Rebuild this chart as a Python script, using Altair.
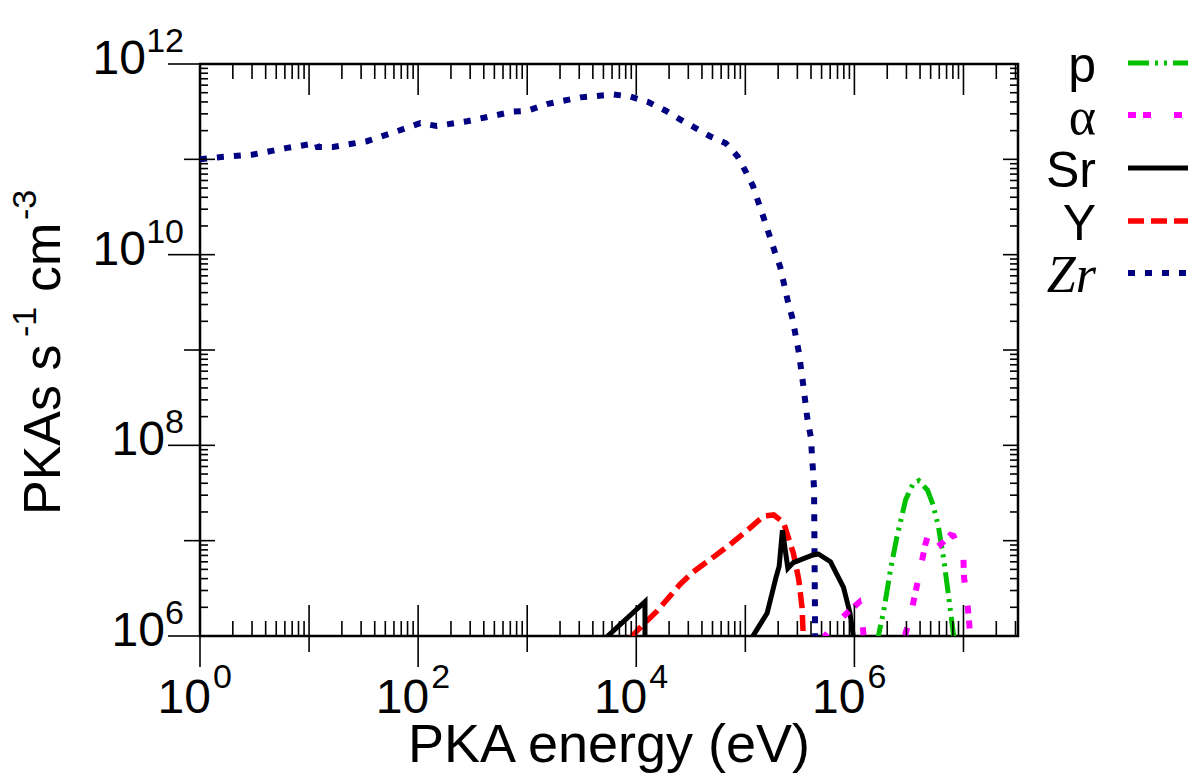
import altair as alt
import pandas as pd
import numpy as np

# ---------------- data (log10 values) ----------------
zr_log_e = [0.0, 0.153, 0.486, 0.80, 1.07, 1.08, 1.22, 1.53, 1.82, 2.02, 2.17, 2.45, 2.87,
            3.00, 3.18, 3.49, 3.79, 3.94, 4.11, 4.27, 4.40, 4.54, 4.68, 4.82, 4.93, 5.00,
            5.07, 5.17, 5.27, 5.32, 5.39, 5.43, 5.49, 5.53, 5.57, 5.60, 5.62, 5.63, 5.64, 5.645]
zr_log_v = [11.00, 11.02, 11.05, 11.12, 11.17, 11.13, 11.13, 11.19, 11.30, 11.38, 11.35, 11.40, 11.50,
            11.51, 11.58, 11.65, 11.68, 11.66, 11.60, 11.51, 11.42, 11.33, 11.24, 11.17, 11.03, 10.88,
            10.72, 10.38, 10.03, 9.87, 9.51, 9.34, 8.98, 8.64, 8.27, 8.09, 7.74, 7.55, 6.0, 5.5]

y_log_e = [3.95, 3.97, 4.08, 4.19, 4.31, 4.40, 4.52, 4.71, 4.86, 5.02, 5.17, 5.26, 5.35,
           5.44, 5.49, 5.52, 5.53, 5.535]
y_log_v = [5.97, 6.01, 6.14, 6.26, 6.42, 6.54, 6.67, 6.83, 6.96, 7.11, 7.26, 7.27, 7.19,
           6.87, 6.59, 6.30, 6.03, 5.9]

sr_log_e = [[3.72, 4.08, 4.08],
            [5.05, 5.07, 5.14, 5.20, 5.28, 5.31, 5.34, 5.39, 5.44, 5.62, 5.67, 5.78, 5.90, 5.96, 5.99, 6.00]]
sr_log_v = [[5.98, 6.36, 5.9],
            [5.95, 6.00, 6.13, 6.24, 6.61, 6.73, 7.11, 6.71, 6.77, 6.85, 6.86, 6.78, 6.51, 6.24, 6.00, 5.9]]

p_log_e = [6.21, 6.22, 6.27, 6.33, 6.39, 6.47, 6.54, 6.59, 6.67, 6.72, 6.77, 6.82, 6.86, 6.90, 6.91, 6.915]
p_log_v = [5.90, 6.00, 6.27, 6.69, 7.04, 7.43, 7.60, 7.63, 7.53, 7.38, 7.15, 6.80, 6.45, 6.09, 6.00, 5.9]

a_log_e = [[5.70, 5.73, 5.84, 5.94, 6.04, 6.07, 6.08, 6.09],
           [6.45, 6.47, 6.51, 6.59, 6.65, 6.69, 6.79, 6.88, 6.91, 7.00, 7.005, 7.04, 7.05, 7.06, 7.07]]
a_log_v = [[5.80, 6.00, 6.14, 6.25, 6.35, 6.20, 6.06, 5.9],
           [5.85, 6.03, 6.19, 6.62, 6.96, 7.11, 6.96, 7.06, 7.05, 6.80, 6.62, 6.30, 6.17, 6.03, 5.9]]

legend_names = ["p", "α", "Sr", "Y", "Zr"]
x_label_exp = [0, 2, 4, 6]
y_label_exp = [6, 8, 10, 12]

# ---------------- layout ----------------
W, H = 818, 572
SANS = "Liberation Sans"
SERIF = "Liberation Serif"
xs = alt.Scale(type="log", domain=[1, 10 ** 7.5], nice=False)
ys = alt.Scale(type="log", domain=[1e6, 1e12], nice=False)


def seg_df(loge_segs, logv_segs):
    rows = []
    for s, (le, lv) in enumerate(zip(loge_segs, logv_segs)):
        for i, (a, b) in enumerate(zip(le, lv)):
            rows.append({"E": 10 ** a, "v": 10 ** b, "seg": s, "i": i})
    return pd.DataFrame(rows)


def line(df, color, width, dash=None):
    kw = dict(clip=True, color=color, strokeWidth=width, strokeCap="butt")
    if dash:
        kw["strokeDash"] = dash
    return alt.Chart(df).mark_line(**kw).encode(
        x=alt.X("E:Q", scale=xs, axis=None),
        y=alt.Y("v:Q", scale=ys, axis=None),
        detail="seg:N",
        order="i:Q",
    )


layers = []
layers.append(line(seg_df([zr_log_e], [zr_log_v]), "#000080", 6, [7, 10]))
layers.append(line(seg_df([y_log_e], [y_log_v]), "#ff0000", 5.5, [16, 7]))
layers.append(line(seg_df(sr_log_e, sr_log_v), "#000000", 5))
layers.append(line(seg_df([p_log_e], [p_log_v]), "#00c000", 5, [21, 6, 3, 6, 3, 6]))
layers.append(line(seg_df(a_log_e, a_log_v), "#ff00ff", 6, [8, 7, 8, 23]))

# ---------------- ticks ----------------
x_dec = [10.0 ** d for d in range(0, 8)]
x_even = [10.0 ** d for d in range(0, 8, 2)]
x_odd = [10.0 ** d for d in range(1, 8, 2)]
x_min = [k * 10.0 ** d for d in range(0, 8) for k in range(2, 10) if k * 10.0 ** d <= 10 ** 7.5]
y_dec = [10.0 ** d for d in range(6, 13)]
y_even = [10.0 ** d for d in range(6, 13, 2)]
y_odd = [10.0 ** d for d in range(7, 13, 2)]
y_min = [k * 10.0 ** d for d in range(6, 12) for k in range(2, 10)]

TICK = dict(color="black", strokeWidth=1.6)


def xticks(vals, a, b):
    return alt.Chart(pd.DataFrame({"t": vals})).mark_rule(**TICK).encode(
        x=alt.X("t:Q", scale=xs, axis=None), y=alt.value(a), y2=alt.value(b))


def yticks(vals, a, b):
    return alt.Chart(pd.DataFrame({"t": vals})).mark_rule(**TICK).encode(
        y=alt.Y("t:Q", scale=ys, axis=None), x=alt.value(a), x2=alt.value(b))


layers += [
    xticks(x_dec, H - 31, H), xticks(x_dec, 0, 31),
    xticks(x_min, H - 15, H), xticks(x_min, 0, 15),
    xticks(x_even, H, H + 31), xticks(x_odd, H, H + 16),
    yticks(y_dec, 0, 15), yticks(y_dec, W - 15, W),
    yticks(y_min, 0, 8), yticks(y_min, W - 8, W),
    yticks(y_even, -32, 0), yticks(y_odd, -16, 0),
]

# ---------------- tick labels ----------------
xl = pd.DataFrame({"t": [10.0 ** e for e in x_label_exp], "e": [str(e) for e in x_label_exp]})
layers.append(alt.Chart(xl).mark_text(text="10", align="right", baseline="alphabetic", dx=11,
                                      fontSize=48, font=SANS, color="black").encode(
    x=alt.X("t:Q", scale=xs, axis=None), y=alt.value(H + 77)))
layers.append(alt.Chart(xl).mark_text(align="left", baseline="alphabetic", dx=13,
                                      fontSize=34, font=SANS, color="black").encode(
    x=alt.X("t:Q", scale=xs, axis=None), y=alt.value(H + 52), text="e:N"))

for nd in (1, 2):
    exps = [e for e in y_label_exp if len(str(e)) == nd]
    yl = pd.DataFrame({"t": [10.0 ** e for e in exps], "e": [str(e) for e in exps]})
    layers.append(alt.Chart(yl).mark_text(align="right", baseline="alphabetic", dy=-12,
                                          fontSize=34, font=SANS, color="black").encode(
        y=alt.Y("t:Q", scale=ys, axis=None), x=alt.value(-16), text="e:N"))
    layers.append(alt.Chart(yl).mark_text(text="10", align="right", baseline="alphabetic", dy=10,
                                          fontSize=48, font=SANS, color="black").encode(
        y=alt.Y("t:Q", scale=ys, axis=None), x=alt.value(-16 - 19 * nd)))

# ---------------- axis titles ----------------
def txt(s, x, y, size, **kw):
    return alt.Chart(pd.DataFrame({"a": [0]})).mark_text(
        text=s, fontSize=size, color="black", **kw).encode(x=alt.value(x), y=alt.value(y))


layers.append(txt("PKA energy (eV)", W / 2, H + 126, 54, font=SANS, align="center", baseline="alphabetic"))
ytitle = dict(font=SANS, angle=270, align="left", baseline="alphabetic")
layers.append(txt("PKAs s", -140, 451, 52, **ytitle))
layers.append(txt("-1", -164, 273, 34, **ytitle))
layers.append(txt("cm", -140, 228, 52, **ytitle))
layers.append(txt("-3", -164, 156, 34, **ytitle))

# ---------------- legend ----------------
leg_base = [18, 70, 123, 176, 228]
leg_fonts = [(SANS, "normal", 50), (SERIF, "normal", 52), (SANS, "normal", 50),
             (SANS, "normal", 50), (SERIF, "italic", 52)]
leg_style = [("#00c000", 5, [21, 6, 3, 6, 3, 6]), ("#ff00ff", 6, [8, 7, 8, 23]),
             ("#000000", 5, None), ("#ff0000", 5.5, [16, 7]), ("#000080", 6, [7, 10])]
for name, base, (fnt, fst, fsz), (col, sw, dash) in zip(legend_names, leg_base, leg_fonts, leg_style):
    layers.append(txt(name, 896, base, fsz, font=fnt, fontStyle=fst, align="right", baseline="alphabetic"))
    kw = dict(color=col, strokeWidth=sw, strokeCap="butt")
    if dash:
        kw["strokeDash"] = dash
    layers.append(alt.Chart(pd.DataFrame({"a": [0]})).mark_rule(**kw).encode(
        x=alt.value(928), x2=alt.value(988), y=alt.value(base - 19)))

chart = alt.layer(*layers).properties(
    width=W, height=H,
    padding={"left": 192, "top": 56, "right": 174, "bottom": 138},
    autosize=alt.AutoSizeParams(type="none"),
).configure_view(stroke="black", strokeWidth=2.5)

chart.save("out.html", embed_options={"renderer": "svg", "actions": False})
